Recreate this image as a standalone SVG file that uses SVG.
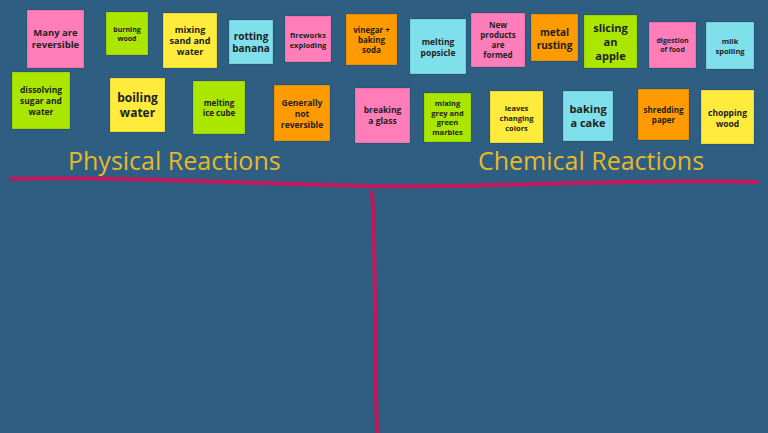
<svg xmlns="http://www.w3.org/2000/svg" width="768" height="433" viewBox="0 0 768 433">
<style>
.n rect{stroke:rgba(0,0,0,0.15);stroke-width:1}
.n text{font-family:"Open Sans","DejaVu Sans",sans-serif;font-weight:700;fill:#222;text-anchor:middle}
.pk{fill:#ff7eb9}.gr{fill:#abe600}.ye{fill:#ffeb3b}.cy{fill:#7fdfea}.or{fill:#ff9a00}
.t{font-family:"Open Sans","DejaVu Sans",sans-serif;font-size:25px;fill:#e9b829}
.ln{fill:none;stroke:#c2185b;stroke-width:4;stroke-linecap:round}
</style>
<rect width="768" height="433" fill="#2e5e82"/>
<g id="connectors">
<path class="ln" d="M11,179 C120,176 250,184 372,186 C500,188 640,178 757,182"/>
<path class="ln" d="M372,192 C376,250 374,330 377,433"/>
</g>
<text class="t" x="68" y="170">Physical Reactions</text>
<text class="t" x="478" y="170">Chemical Reactions</text>
<g id="n1" class="n"><rect class="pk" x="27" y="10" width="57" height="58"/><text font-size="9.5" x="55.5" y="36">Many are<tspan x="55.5" dy="12">reversible</tspan></text></g>
<g id="n2" class="n"><rect class="gr" x="106" y="12" width="42" height="43"/><text font-size="7" x="127" y="32">burning<tspan x="127" dy="9">wood</tspan></text></g>
<g id="n3" class="n"><rect class="ye" x="163" y="13" width="54" height="55"/><text font-size="9" x="190" y="33">mixing<tspan x="190" dy="11">sand and</tspan><tspan x="190" dy="11">water</tspan></text></g>
<g id="n4" class="n"><rect class="cy" x="229" y="20" width="44" height="44"/><text font-size="10" x="251" y="40">rotting<tspan x="251" dy="12">banana</tspan></text></g>
<g id="n5" class="n"><rect class="pk" x="285" y="16" width="46" height="46"/><text font-size="7.5" x="308" y="38">fireworks<tspan x="308" dy="9.5">exploding</tspan></text></g>
<g id="n6" class="n"><rect class="or" x="346" y="14" width="51" height="51"/><text font-size="8" x="371.5" y="33">vinegar +<tspan x="371.5" dy="10">baking</tspan><tspan x="371.5" dy="10">soda</tspan></text></g>
<g id="n7" class="n"><rect class="cy" x="410" y="19" width="56" height="55"/><text font-size="8.5" x="438" y="45">melting<tspan x="438" dy="11">popsicle</tspan></text></g>
<g id="n8" class="n"><rect class="pk" x="471" y="13" width="54" height="54"/><text font-size="8" x="498" y="28">New<tspan x="498" dy="10">products</tspan><tspan x="498" dy="10">are</tspan><tspan x="498" dy="10">formed</tspan></text></g>
<g id="n9" class="n"><rect class="or" x="531" y="14" width="47" height="47"/><text font-size="10" x="554.5" y="36">metal<tspan x="554.5" dy="12.5">rusting</tspan></text></g>
<g id="n10" class="n"><rect class="gr" x="584" y="15" width="53" height="53"/><text font-size="11" x="610.5" y="32">slicing<tspan x="610.5" dy="14">an</tspan><tspan x="610.5" dy="14">apple</tspan></text></g>
<g id="n11" class="n"><rect class="pk" x="649" y="22" width="47" height="46"/><text font-size="7" x="672.5" y="43">digestion<tspan x="672.5" dy="9">of food</tspan></text></g>
<g id="n12" class="n"><rect class="cy" x="706" y="22" width="48" height="47"/><text font-size="7.5" x="730" y="44">milk<tspan x="730" dy="10">spoiling</tspan></text></g>
<g id="n13" class="n"><rect class="gr" x="12" y="72" width="58" height="57"/><text font-size="8.5" x="41" y="93">dissolving<tspan x="41" dy="11">sugar and</tspan><tspan x="41" dy="11">water</tspan></text></g>
<g id="n14" class="n"><rect class="ye" x="110" y="78" width="55" height="54"/><text font-size="12" x="137.5" y="102">boiling<tspan x="137.5" dy="15">water</tspan></text></g>
<g id="n15" class="n"><rect class="gr" x="193" y="81" width="52" height="53"/><text font-size="8" x="219" y="106">melting<tspan x="219" dy="10">ice cube</tspan></text></g>
<g id="n16" class="n"><rect class="or" x="274" y="85" width="56" height="56"/><text font-size="8.5" x="302" y="106">Generally<tspan x="302" dy="11">not</tspan><tspan x="302" dy="11">reversible</tspan></text></g>
<g id="n17" class="n"><rect class="pk" x="355" y="88" width="55" height="55"/><text font-size="8.5" x="382.5" y="113">breaking<tspan x="382.5" dy="11">a glass</tspan></text></g>
<g id="n18" class="n"><rect class="gr" x="424" y="93" width="47" height="49"/><text font-size="7.5" x="447.5" y="106">mixing<tspan x="447.5" dy="9.5">grey and</tspan><tspan x="447.5" dy="9.5">green</tspan><tspan x="447.5" dy="9.5">marbles</tspan></text></g>
<g id="n19" class="n"><rect class="ye" x="490" y="91" width="53" height="52"/><text font-size="7.5" x="516.5" y="111">leaves<tspan x="516.5" dy="10">changing</tspan><tspan x="516.5" dy="10">colors</tspan></text></g>
<g id="n20" class="n"><rect class="cy" x="563" y="91" width="50" height="50"/><text font-size="11" x="588" y="113">baking<tspan x="588" dy="14">a cake</tspan></text></g>
<g id="n21" class="n"><rect class="or" x="638" y="89" width="51" height="51"/><text font-size="8" x="663.5" y="113">shredding<tspan x="663.5" dy="10">paper</tspan></text></g>
<g id="n22" class="n"><rect class="ye" x="701" y="90" width="53" height="54"/><text font-size="8.5" x="727.5" y="116">chopping<tspan x="727.5" dy="11">wood</tspan></text></g>
</svg>
